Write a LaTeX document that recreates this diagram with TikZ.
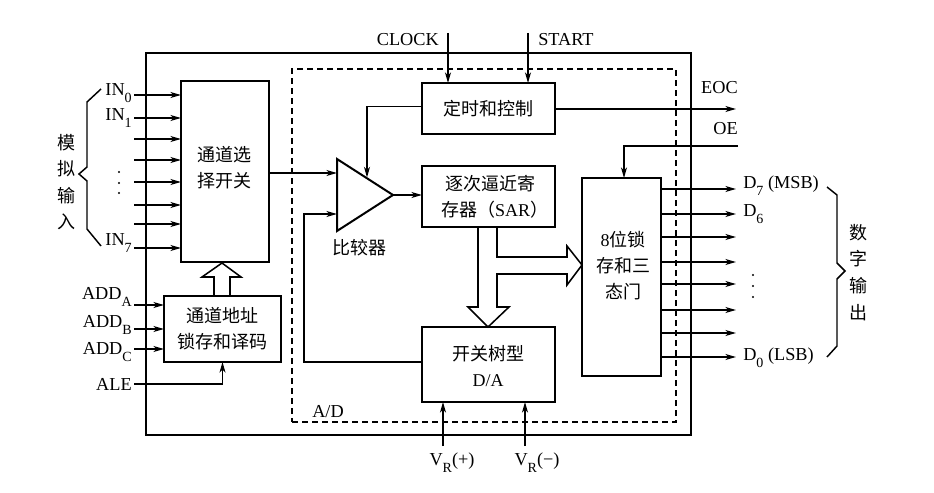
\documentclass[tikz,border=0pt]{standalone}
\usepackage{fontspec}
\setmainfont{Liberation Serif}
\newfontfamily\cjk{Noto Sans CJK SC}
\usetikzlibrary{arrows.meta}
\newcommand{\lowtxt}[1]{\raisebox{-0.8ex}{\fontsize{10.5}{10.5}\selectfont #1}}
\tikzset{
  >={Stealth[length=8pt,width=4.5pt,inset=2.2pt]},
  sized/.style 2 args={minimum width=#1*0.75pt, minimum height=#2*0.75pt, inner sep=0pt, outer sep=0pt},
  block/.style 2 args={draw, line width=1.5pt, sized={#1}{#2}, align=center, font=\fontsize{13.5}{19.5}\selectfont\cjk},
  blockname/.style={inner sep=0pt, align=center, font=\fontsize{13.5}{19.5}\selectfont\cjk},
  sig/.style={line width=0.85pt},
  lbl/.style={inner sep=0pt, font=\fontsize{13.7}{16}\selectfont},
  cn/.style={inner sep=0pt, font=\fontsize{13.5}{16}\selectfont\cjk},
  bus/.style={line width=1.15pt, line join=miter},
  brace/.style={line width=1.1pt},
  dotty/.style={circle, fill, inner sep=0pt, minimum size=1.8pt}
}
\begin{document}
\begin{tikzpicture}[x=0.75pt,y=-0.75pt]
\useasboundingbox (0,0) rectangle (934,492);

% frames
\node[draw, line width=1.5pt, sized={545}{382}] (chip) at (418.5,244) {};
\node[draw, line width=0.85pt, dash pattern=on 4.5pt off 3pt, sized={384}{353}] (ad) at (484,245.5) {};
\node[lbl] (adname) at (328,412) {A/D};

% blocks
\node[block={88}{181}] (mux) at (225,171.5) {};
\node[blockname] (muxname) at (224,167.5) {通道选\\择开关};
\node[block={117}{66}] (addr) at (222.5,329) {通道地址\\锁存和译码};
\node[block={133}{51}] (ctrl) at (488.5,108.5) {定时和控制};
\node[block={133}{61}] (sar) at (488.5,196.5) {};
\node[blockname] (sarname) at (490,197) {逐次逼近寄\\\hspace*{7pt}存器（{\rmfamily SAR}）};
\node[block={133}{75}] (dac) at (488.5,364.5) {};
\node[blockname] (dacname) at (488,366.5) {开关树型\\{\rmfamily D/A}};
\node[block={79}{198}] (latch) at (621.5,277) {};
\node[blockname] (latchname) at (623,266) {{\rmfamily 8}位锁\\存和三\\态门};

% comparator
\coordinate (cmpa) at (337,159);
\coordinate (cmpb) at (337,231);
\coordinate (cmpo) at (393,195);
\draw[line width=1.5pt, line join=miter] (cmpa) -- (cmpo) -- (cmpb) -- cycle;
\node[cn] (cmpname) at (359,248) {比较器};

% inputs
\foreach \Val [count=\i from 0] in {95,118,139,160,182,205,224,248} {
  \coordinate (in\i) at (134,\Val);
  \draw[->,sig] (in\i) -- (in\i -| mux.west);
}
\node[lbl,anchor=east] (inzero) at (132,93) {IN\lowtxt{0}};
\node[lbl,anchor=east] (inone) at (132,118) {IN\lowtxt{1}};
\node[lbl,anchor=east] (inseven) at (132,243) {IN\lowtxt{7}};
\foreach \Val in {172,183,193}
  \node[dotty] (ind\Val) at (119,\Val) {};
\draw[brace] (101,89) -- (87,102) -- (87,167) -- (79,174) -- (87,181) -- (87,229) -- (101,246);
\foreach \Val/\Txt in {143/模,169/拟,196/输,222/入}
  \node[cn] (an\Val) at (66,\Val) {\Txt};

% address lines
\foreach \Val/\Txt/\Sub/\Ly in {305/A/a/297,329/B/b/325,349/C/c/352} {
  \coordinate (add\Sub) at (134,\Val);
  \draw[->,sig] (add\Sub) -- (add\Sub -| addr.west);
  \node[lbl,anchor=east] (addname\Sub) at (132,\Ly) {ADD\lowtxt{\Txt}};
}
\coordinate (ale) at (134,384);
\draw[->,sig] (ale) -| (addr.south);
\node[lbl,anchor=east] (alename) at (132,384) {ALE};
\draw[bus] (214,296) -- (214,277) -- (202,277) -- (222,263) -- (241,277) -- (230,277) -- (230,296);

% control
\coordinate (clock) at (448,33);
\coordinate (start) at (528,33);
\draw[->,sig] (clock) -- (clock |- ctrl.north);
\draw[->,sig] (start) -- (start |- ctrl.north);
\node[lbl,anchor=east] (clockname) at (439,40) {CLOCK};
\node[lbl,anchor=west] (startname) at (538,40) {START};
\coordinate (ctrlcmp) at (367,177.5);
\draw[->,sig] (ctrl.west) ++(0,-2) -| (ctrlcmp);
\coordinate (eoc) at (736,109);
\draw[->,sig] (ctrl.east |- eoc) -- (eoc);
\node[lbl,anchor=east] (eocname) at (738,88) {EOC};
\coordinate (oe) at (738,146);
\draw[->,sig] (oe) -| (624,178);
\node[lbl,anchor=east] (oename) at (738,129) {OE};

% comparator wiring
\draw[->,sig] (mux.east |- 0,173) -- (cmpa |- 0,173);
\draw[->,sig] (cmpo) -- (sar.west |- cmpo);
\draw[->,sig] (dac.west |- 0,362) -| (304,214) -- (cmpa |- 0,214);

% vref
\coordinate (vrp) at (443,446);
\coordinate (vrm) at (525,446);
\draw[->,sig] (vrp) -- (vrp |- dac.south);
\draw[->,sig] (vrm) -- (vrm |- dac.south);
\node[lbl] (vrpname) at (452,463) {V\lowtxt{R}(+)};
\node[lbl] (vrmname) at (537,463) {V\lowtxt{R}(−)};

% sar bus
\draw[bus] (478,227) -- (478,307) -- (468,307) -- (488,327) -- (509,307) -- (497,307) -- (497,274) -- (567,274) -- (567,285) -- (582,265) -- (567,246) -- (567,257) -- (497,257) -- (497,227);

% outputs
\foreach \Val [count=\i from 0] in {189,214,237,262,284,310,333,357} {
  \coordinate (out\i) at (736,\Val);
  \draw[->,sig] (out\i -| latch.east) -- (out\i);
}
\node[lbl,anchor=west] (dseven) at (743,186) {D\lowtxt{7} (MSB)};
\node[lbl,anchor=west] (dsix) at (743,214) {D\lowtxt{6}};
\node[lbl,anchor=west] (dzero) at (743,358) {D\lowtxt{0} (LSB)};
\foreach \Val in {275,286,297}
  \node[dotty] (outd\Val) at (753,\Val) {};
\draw[brace] (827,187) -- (837,195) -- (837,263) -- (845,271) -- (837,279) -- (837,346) -- (827,357);
\foreach \Val/\Txt in {233/数,259/字,286/输,313/出}
  \node[cn] (dn\Val) at (858,\Val) {\Txt};

\end{tikzpicture}
\end{document}
